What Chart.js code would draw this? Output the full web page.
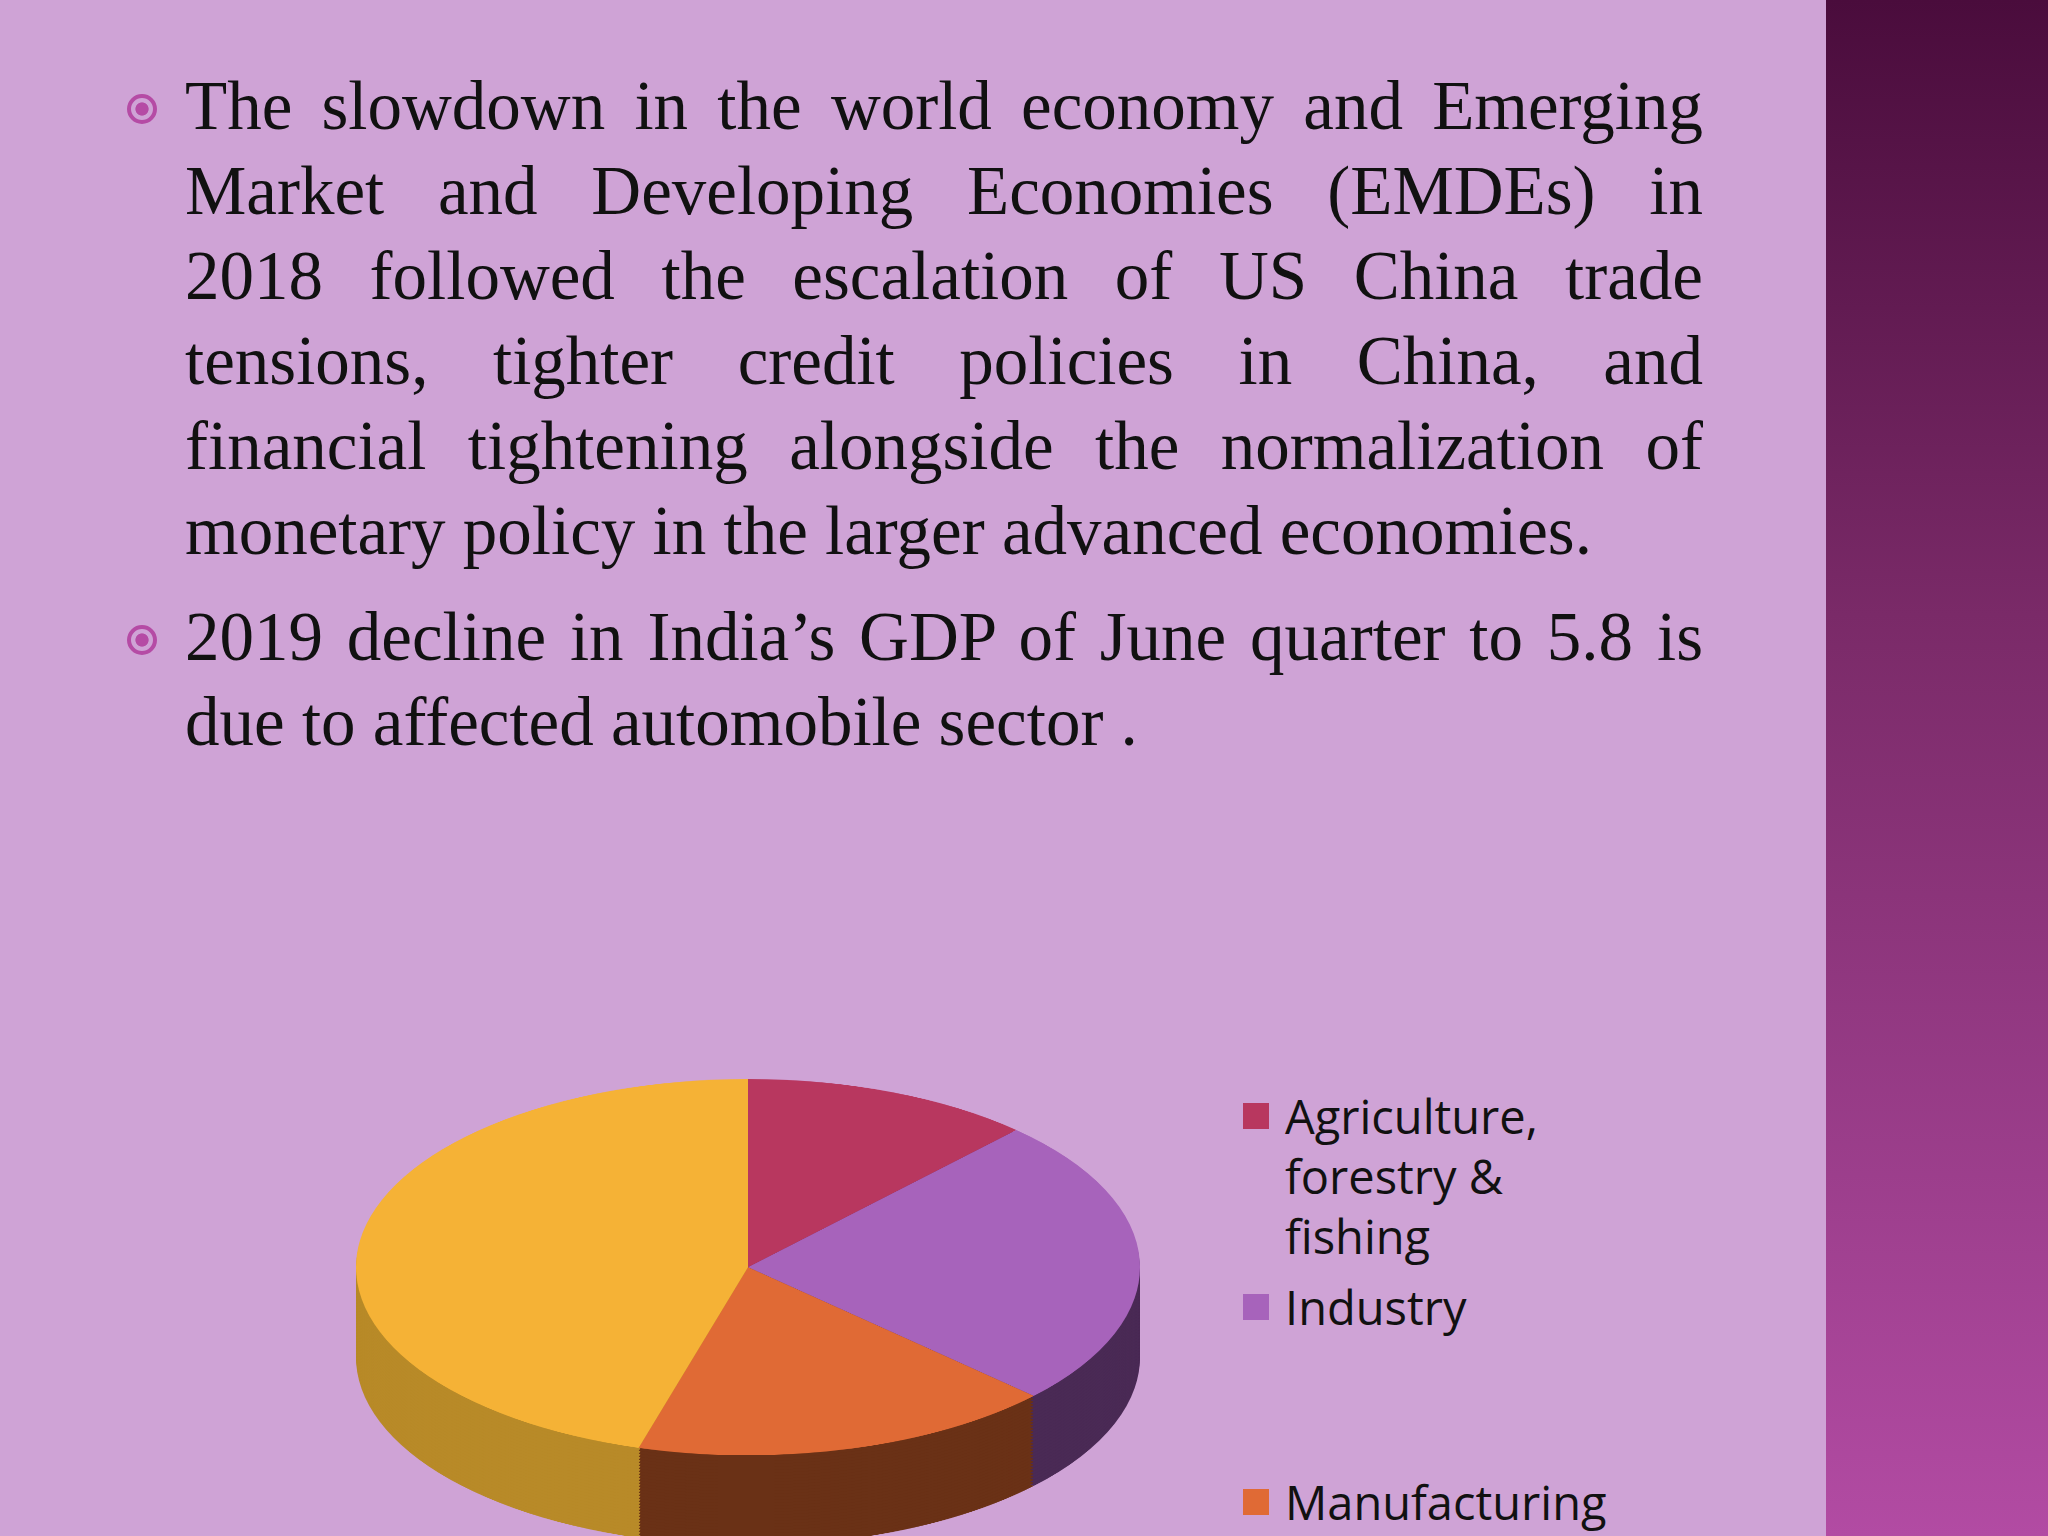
<!DOCTYPE html>
<html><head><meta charset="utf-8">
<script src="https://cdn.jsdelivr.net/npm/chart.js@4/dist/chart.umd.min.js"></script>
<style>
html,body{margin:0;padding:0;width:2048px;height:1536px;overflow:hidden;background:#cfa3d6;}
#stripe{position:absolute;left:1826px;top:0;width:222px;height:1536px;background:linear-gradient(#4a0c3c,#7a2a68 40%,#b24ba3);}
#txt{position:absolute;left:185px;top:64px;width:1518px;font-family:"Liberation Serif",serif;font-size:69px;line-height:85px;color:#111;}
#txt p{margin:0 0 21px 0;position:relative;}
#txt p span{display:block;text-align:justify;text-align-last:justify;}
#txt p span.last{text-align-last:left;}
#txt p:before{content:"";position:absolute;left:-58px;top:30px;width:22px;height:22px;border:4px solid #b54ba5;border-radius:50%;background:radial-gradient(#b54ba5 40%,transparent 45%);}
.pw{position:absolute;left:356px;width:784px;height:784px;transform-origin:0 0;transform:scaleY(0.48);}
#legend{position:absolute;left:1243px;top:0;font-family:"Open Sans",sans-serif;font-size:47px;color:#111;}
.li{position:absolute;left:0;white-space:nowrap;line-height:60px;}
.sw{position:absolute;left:0;width:26px;height:26px;}
.lt{position:absolute;left:42px;}
</style></head><body>
<div id="stripe"></div>
<div id="txt">
<p><span>The slowdown in the world economy and Emerging</span><span>Market and Developing Economies (EMDEs) in</span><span>2018 followed the escalation of US China trade</span><span>tensions, tighter credit policies in China, and</span><span>financial tightening alongside the normalization of</span><span class="last">monetary policy in the larger advanced economies.</span></p>
<p><span>2019 decline in India’s GDP of June quarter to 5.8 is</span><span class="last">due to affected automobile sector .</span></p>
</div>
<div id="pies"></div>
<div id="legend"></div>
<script>
const categories=["Agriculture, forestry & fishing","Industry","Manufacturing","Services"];
const values=[12,25,17.5,45.5];
const colors=["#b8375f","#a763bb","#e06a35","#f5b236"];
const darks=["#6e1f38","#4a2a55","#6a3116","#b88a28"];
const legendTops=[1086,1277,1472,1600];
const legendLines=[["Agriculture,","forestry &","fishing"],["Industry"],["Manufacturing"],["Services"]];
const pies=document.getElementById('pies');
function mk(y,cols){
 const d=document.createElement('div');d.className='pw';d.style.top=y+'px';
 const c=document.createElement('canvas');c.width=784;c.height=784;d.appendChild(c);
 pies.appendChild(d);
 new Chart(c,{type:'pie',data:{labels:categories,datasets:[{data:values,backgroundColor:cols,borderWidth:0}]},
 options:{responsive:false,animation:false,plugins:{legend:{display:false},tooltip:{enabled:false}},layout:{padding:0}}});
}
const baseY=1079;
for(let k=90;k>=1;k-=3) mk(baseY+k,darks);
mk(baseY,colors);
const lg=document.getElementById('legend');
categories.forEach((c,i)=>{
 const d=document.createElement('div');d.className='li';d.style.top=legendTops[i]+'px';
 d.innerHTML='<div class="sw" style="top:17px;background:'+colors[i]+'"></div><div class="lt">'+legendLines[i].join('<br>')+'</div>';
 lg.appendChild(d);
});
</script>
</body></html>
